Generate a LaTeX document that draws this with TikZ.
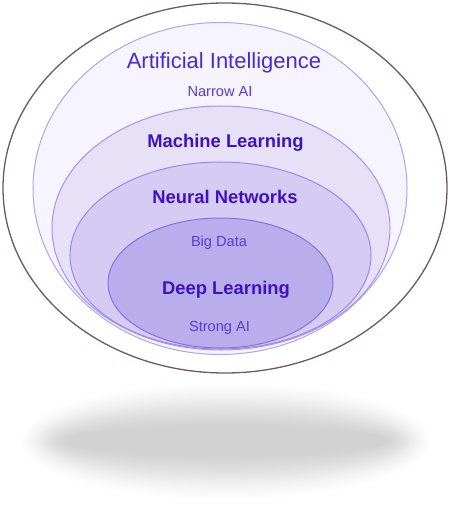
\documentclass[tikz,border=0pt]{standalone}
\usepackage{fontspec}
\setmainfont{Liberation Sans}
\definecolor{outerline}{HTML}{6E5A5C}
\definecolor{aifill}{HTML}{F6F4FE}
\definecolor{ailine}{HTML}{B2A2F4}
\definecolor{mlfill}{HTML}{E7E1F8}
\definecolor{mlline}{HTML}{A694EE}
\definecolor{nnfill}{HTML}{D5CBF3}
\definecolor{nnline}{HTML}{9C88EA}
\definecolor{dlfill}{HTML}{BAADEB}
\definecolor{dlline}{HTML}{8870DF}
\definecolor{titlecol}{HTML}{4A2AD2}
\definecolor{boldcol}{HTML}{3C12C4}
\definecolor{smallcol}{HTML}{5A3CD2}
\tikzset{
  titletext/.style={anchor=base, text=titlecol, font=\fontsize{22bp}{26bp}\selectfont, inner sep=0pt},
  boldtext/.style={anchor=base, text=boldcol, font=\bfseries\fontsize{18.4bp}{22bp}\selectfont, inner sep=0pt},
  smalltext/.style={anchor=base, text=smallcol, font=\fontsize{14.6bp}{18bp}\selectfont, inner sep=0pt},
}
\begin{document}
\begin{tikzpicture}[x=1bp, y=-1bp]
\useasboundingbox (0,0) rectangle (451,518);
% soft shadow (stacked translucent ellipses)
\foreach \k in {0,...,44}{
  \pgfmathsetmacro{\s}{2*\k/44-1}
  \pgfmathsetmacro{\p}{44*(0.5+0.5*(0.7*\s+0.3*\s*abs(\s)))}
  \fill[black, opacity=0.0056] (226,441) ellipse [x radius={(161+\p)*1bp}, y radius={(15+\p)*1bp}];
}
% outer ellipse
\draw[outerline, line width=1.3bp, fill=white] (225,188) ellipse [x radius=222bp, y radius=185bp];
% nested sets
\draw[ailine, line width=1bp, fill=aifill] (220,188.5) ellipse [x radius=187bp, y radius=166bp];
\draw[mlline, line width=1bp, fill=mlfill] (221,228) ellipse [x radius=169bp, y radius=122bp];
\draw[nnline, line width=1bp, fill=nnfill] (220.5,255.5) ellipse [x radius=150.5bp, y radius=93.5bp];
\draw[dlline, line width=1bp, fill=dlfill] (220.5,283) ellipse [x radius=112.5bp, y radius=65bp];
% labels
\node[titletext] (ai) at (224,68.3) {Artificial Intelligence};
\node[smalltext] (narrow) at (220,96.5) {Narrow AI};
\node[boldtext] (ml) at (225.5,147.3) {Machine Learning};
\node[boldtext] (nn) at (225,203.3) {Neural Networks};
\node[smalltext] (big) at (219,246.7) {Big Data};
\node[boldtext] (dl) at (226,294) {Deep Learning};
\node[smalltext] (strong) at (219.5,331) {Strong AI};
\end{tikzpicture}
\end{document}
